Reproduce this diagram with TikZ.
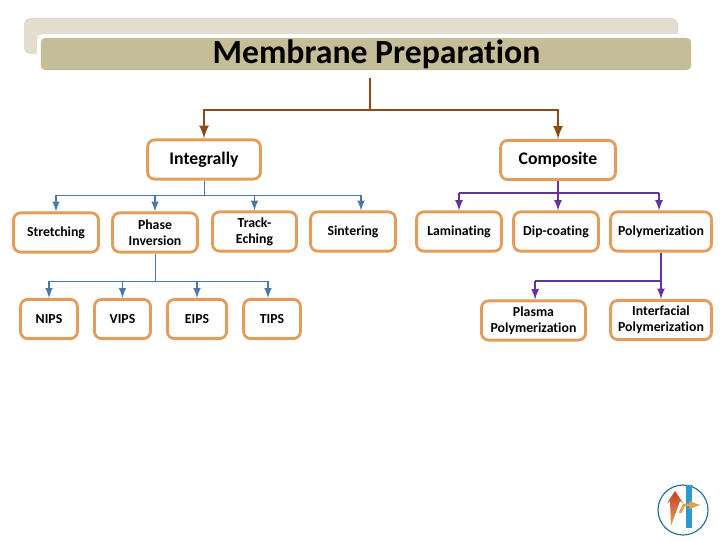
\documentclass[tikz,border=0pt]{standalone}
\usepackage{fontspec}
\setmainfont{Carlito}[Ligatures=NoCommon]
\definecolor{bandbeige}{HTML}{E3DDD0}
\definecolor{barkhaki}{HTML}{C4BD97}
\definecolor{boxorange}{HTML}{E29C5C}
\definecolor{linebrown}{HTML}{8C4A16}
\definecolor{lineblue}{HTML}{4A78A8}
\definecolor{linepurple}{HTML}{64349A}
\definecolor{logoblue}{HTML}{2C9AD0}
\definecolor{logored}{HTML}{C8402C}
\definecolor{logoorange}{HTML}{E0A050}
\tikzset{
	box/.style={draw=boxorange,line width=2pt,rounded corners=5pt,fill=white,align=center,font=\bfseries\fontsize{9.8}{11.5}\selectfont,minimum height=0.98cm,inner sep=0pt},
	topbox/.style={box,font=\bfseries\fontsize{12.6}{15}\selectfont},
	brownline/.style={draw=linebrown,line width=2.1pt},
	blueline/.style={draw=lineblue,line width=0.7pt},
	bluetip/.style={draw=lineblue,line width=1.4pt,-latex},
	purpleline/.style={draw=linepurple,line width=0.9pt},
	purpletip/.style={draw=linepurple,line width=1.5pt,-latex}
}
\begin{document}
\begin{tikzpicture}[x=0.025cm,y=-0.025cm]
		\useasboundingbox (0,0) rectangle (720,540);
		% title band
		\fill[bandbeige,rounded corners=4pt] (24,18) rectangle (678,54);
		\fill[white,rounded corners=4pt] (37,34) rectangle (695,75);
		\node[fill=barkhaki,rounded corners=3pt,minimum width=16.25cm,minimum height=0.8cm,inner sep=0pt] (title) at (366,54) {};
		\node[font=\bfseries\fontsize{24}{28}\selectfont,inner sep=0pt] (titletext) at (376.5,54) {Membrane Preparation};

		% first level
		\node[topbox,minimum width=2.82cm] (integrally) at (204,159.5) {Integrally};
		\node[topbox,minimum width=2.87cm] (composite) at (558,160) {Composite};
		\coordinate (root) at (370,78);
		\coordinate (brownbus) at (370,110);
		\draw[brownline] (root) -- (brownbus);
		\draw[brownline,-latex] (brownbus) -| (integrally.north);
		\draw[brownline,-latex] (brownbus) -| (composite.north);

		% integrally branches
		\node[box,minimum width=2.12cm] (stretching) at (56,232.5) {Stretching};
		\node[box,minimum width=2.12cm] (phase) at (155,232.5) {Phase\\Inversion};
		\node[box,minimum width=2.1cm] (track) at (254.5,231.5) {Track-\\Eching};
		\node[box,minimum width=2.12cm] (sintering) at (353,231.5) {Sintering};
		\coordinate (bluebus) at (204,195);
		\coordinate (sinterdrop) at ([xshift=0.2cm]sintering.north);
		\draw[blueline] (integrally) -- (bluebus);
		\draw[blueline] (stretching.north |- bluebus) -- (sinterdrop |- bluebus);
		\draw[bluetip] (stretching.north |- bluebus) -- (stretching.north);
		\draw[bluetip] (phase.north |- bluebus) -- (phase.north);
		\draw[bluetip] (track.north |- bluebus) -- (track.north);
		\draw[bluetip] (sinterdrop |- bluebus) -- (sinterdrop);

		% phase inversion branches
		\node[box,minimum width=1.42cm] (nips) at (49,319) {NIPS};
		\node[box,minimum width=1.4cm] (vips) at (122.5,319) {VIPS};
		\node[box,minimum width=1.48cm] (eips) at (197,319) {EIPS};
		\node[box,minimum width=1.42cm] (tips) at (272,319) {TIPS};
		\coordinate (phasebus) at (155,281);
		\coordinate (tipsdrop) at ([xshift=-0.1cm]tips.north);
		\draw[blueline] (phase) -- (phasebus);
		\draw[blueline] (nips.north |- phasebus) -- (tipsdrop |- phasebus);
		\draw[bluetip] (nips.north |- phasebus) -- (nips.north);
		\draw[bluetip] (vips.north |- phasebus) -- (vips.north);
		\draw[bluetip] (eips.north |- phasebus) -- (eips.north);
		\draw[bluetip] (tipsdrop |- phasebus) -- (tipsdrop);

		% composite branches
		\node[box,minimum width=2.12cm] (laminating) at (459,231.5) {Laminating};
		\node[box,minimum width=2.12cm] (dip) at (556,231.5) {Dip-coating};
		\node[box,minimum width=2.52cm] (polymerization) at (661,231.5) {Polymerization};
		\coordinate (purplebus) at (558,193);
		\coordinate (polydrop) at ([xshift=-0.05cm]polymerization.north);
		\draw[purpletip] (composite.south) -- (composite.south |- dip.north);
		\draw[purpleline] (laminating.north |- purplebus) -- (polydrop |- purplebus);
		\draw[purpletip] (laminating.north |- purplebus) -- (laminating.north);
		\draw[purpletip] (polydrop |- purplebus) -- (polydrop);

		% polymerization branches
		\node[box,minimum width=2.6cm] (plasma) at (533.5,320.5) {Plasma\\Polymerization};
		\node[box,minimum width=2.52cm] (interfacial) at (661,320) {Interfacial\\Polymerization};
		\coordinate (polybus) at (661,281);
		\coordinate (plasmadrop) at ([xshift=0.04cm]plasma.north);
		\draw[purpletip] (polymerization) -- (interfacial);
		\draw[purpleline] (polybus) -- (plasmadrop |- polybus);
		\draw[purpletip] (plasmadrop |- polybus) -- (plasmadrop);

		% logo
		\draw[logoblue!70!black,line width=0.8pt] (683,510) circle (25);
		\fill[logoblue] (686,485) rectangle (692,528);
		\shade[top color=logored,bottom color=logoorange] (671,526) -- (670,501) -- (667,503) -- (675,491) -- (683,503) -- (680,501) -- cycle;
		\draw[logoorange,line width=1.8pt,-latex] (680,513) -- (684,505) -- (701,505);
	\end{tikzpicture}
\end{document}
